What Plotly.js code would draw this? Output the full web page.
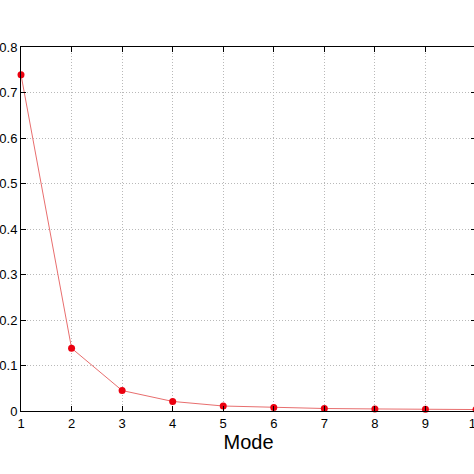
<!DOCTYPE html>
<html><head><meta charset="utf-8">
<script src="https://cdn.plot.ly/plotly-3.0.1.min.js"></script>
<style>html,body{margin:0;padding:0;overflow:hidden;background:#fff}</style>
</head><body><div id="chart"></div>
<script>
const modes = [1,2,3,4,5,6,7,8,9,10];
const values = [0.739,0.138,0.045,0.021,0.011,0.0075,0.0055,0.0045,0.0038,0.0032];
const xTicks = [1,2,3,4,5,6,7,8,9,10];
const yTicks = [0,0.1,0.2,0.3,0.4,0.5,0.6,0.7,0.8];

Plotly.newPlot('chart', [{
  x: modes, y: values, type: 'scatter', mode: 'lines+markers',
  line: {color: 'rgb(232,110,110)', width: 1},
  marker: {color: 'rgb(235,0,15)', size: 7, line: {width: 0}},
  cliponaxis: false
}], {
  width: 490, height: 474,
  margin: {l: 21, r: 14, t: 47, b: 63},
  paper_bgcolor: '#fff', plot_bgcolor: '#fff',
  showlegend: false,
  font: {family: 'Liberation Sans, Arial, sans-serif', size: 13, color: '#000'},
  xaxis: {
    range: [1, 10], tickvals: xTicks, ticktext: xTicks.map(String),
    showline: true, linecolor: '#000', linewidth: 1, mirror: 'ticks',
    ticks: 'inside', ticklen: 5, tickcolor: '#000',
    showgrid: true, gridcolor: 'rgb(185,185,185)', griddash: '1px,2px', gridwidth: 1,
    zeroline: false, automargin: false,
    title: {text: 'Mode', font: {size: 20}, standoff: 0}
  },
  yaxis: {
    range: [0, 0.8], tickvals: yTicks, ticktext: yTicks.map(v => v === 0 ? '0' : v.toFixed(1)),
    showline: true, linecolor: '#000', linewidth: 1, mirror: 'ticks',
    ticks: 'inside', ticklen: 5, tickcolor: '#000',
    showgrid: true, gridcolor: 'rgb(185,185,185)', griddash: '1px,2px', gridwidth: 1,
    zeroline: false, ticklabelstandoff: 0
  }
}, {displayModeBar: false, staticPlot: true});
</script></body></html>
